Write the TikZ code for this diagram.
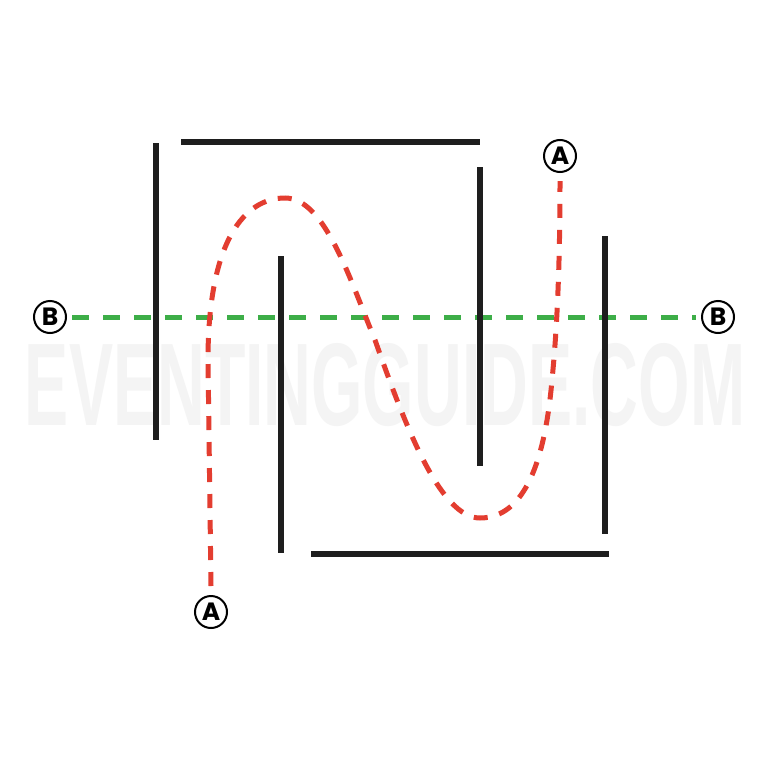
\documentclass[tikz,border=0pt]{standalone}
\usepackage{fontspec}
\setmainfont{Poppins}
\newfontfamily\wmfont{Liberation Sans}
\definecolor{wall}{HTML}{1E1E1E}
\definecolor{routeA}{HTML}{E33D30}
\definecolor{routeB}{HTML}{3DAE48}
\definecolor{wmark}{HTML}{F4F4F4}
\begin{document}
\begin{tikzpicture}[x=1pt,y=-1pt,
  wallline/.style={draw=wall,line width=6pt},
  lbl/.style={circle,draw=black,line width=2pt,minimum size=32pt,inner sep=0pt,font=\fontsize{25}{25}\selectfont\bfseries},
  arouteline/.style={draw=routeA,line width=5pt,dash pattern=on 14pt off 12pt},
  brouteline/.style={draw=routeB,line width=5pt,dash pattern=on 17pt off 14pt}]
\useasboundingbox (0,0) rectangle (768,768);
\fill[white] (0,0) rectangle (768,768);
% watermark
\node[text=wmark,inner sep=0pt] (wm) at (385,385) {\resizebox{720pt}{82pt}{\wmfont\bfseries EVENTINGGUIDE.COM}};
% labels
\node[lbl] (b1) at (50,317) {B};
\node[lbl] (b2) at (718,317) {B};
\node[lbl] (a1) at (560,156) {A};
\node[lbl] (a2) at (211,612) {A};
% green route
\coordinate (g1) at (72,317);
\coordinate (g2) at (696,317);
\draw[brouteline] (g1) -- (g2);
% walls
\draw[wallline] (156,143) -- (156,440);
\draw[wallline] (181,142) -- (480,142);
\draw[wallline] (480,167) -- (480,466);
\draw[wallline] (281,256) -- (281,553);
\draw[wallline] (311,554) -- (609,554);
\draw[wallline] (605,236) -- (605,534);
% red route
\coordinate (r0) at (211,586);
\coordinate (r1) at (208,360);
\coordinate (r2) at (285,198);
\coordinate (r3) at (375,340);
\coordinate (r4) at (480,518);
\coordinate (r5) at (552,380);
\coordinate (r6) at (560,181);
\draw[arouteline] (r0) -- (r1)
  .. controls (208,240) and (245,198) .. (r2)
  .. controls (325,198) and (350,280) .. (r3)
  .. controls (405,425) and (440,518) .. (r4)
  .. controls (525,518) and (545,460) .. (r5)
  .. controls (558,320) and (560,250) .. (r6);
\end{tikzpicture}
\end{document}
